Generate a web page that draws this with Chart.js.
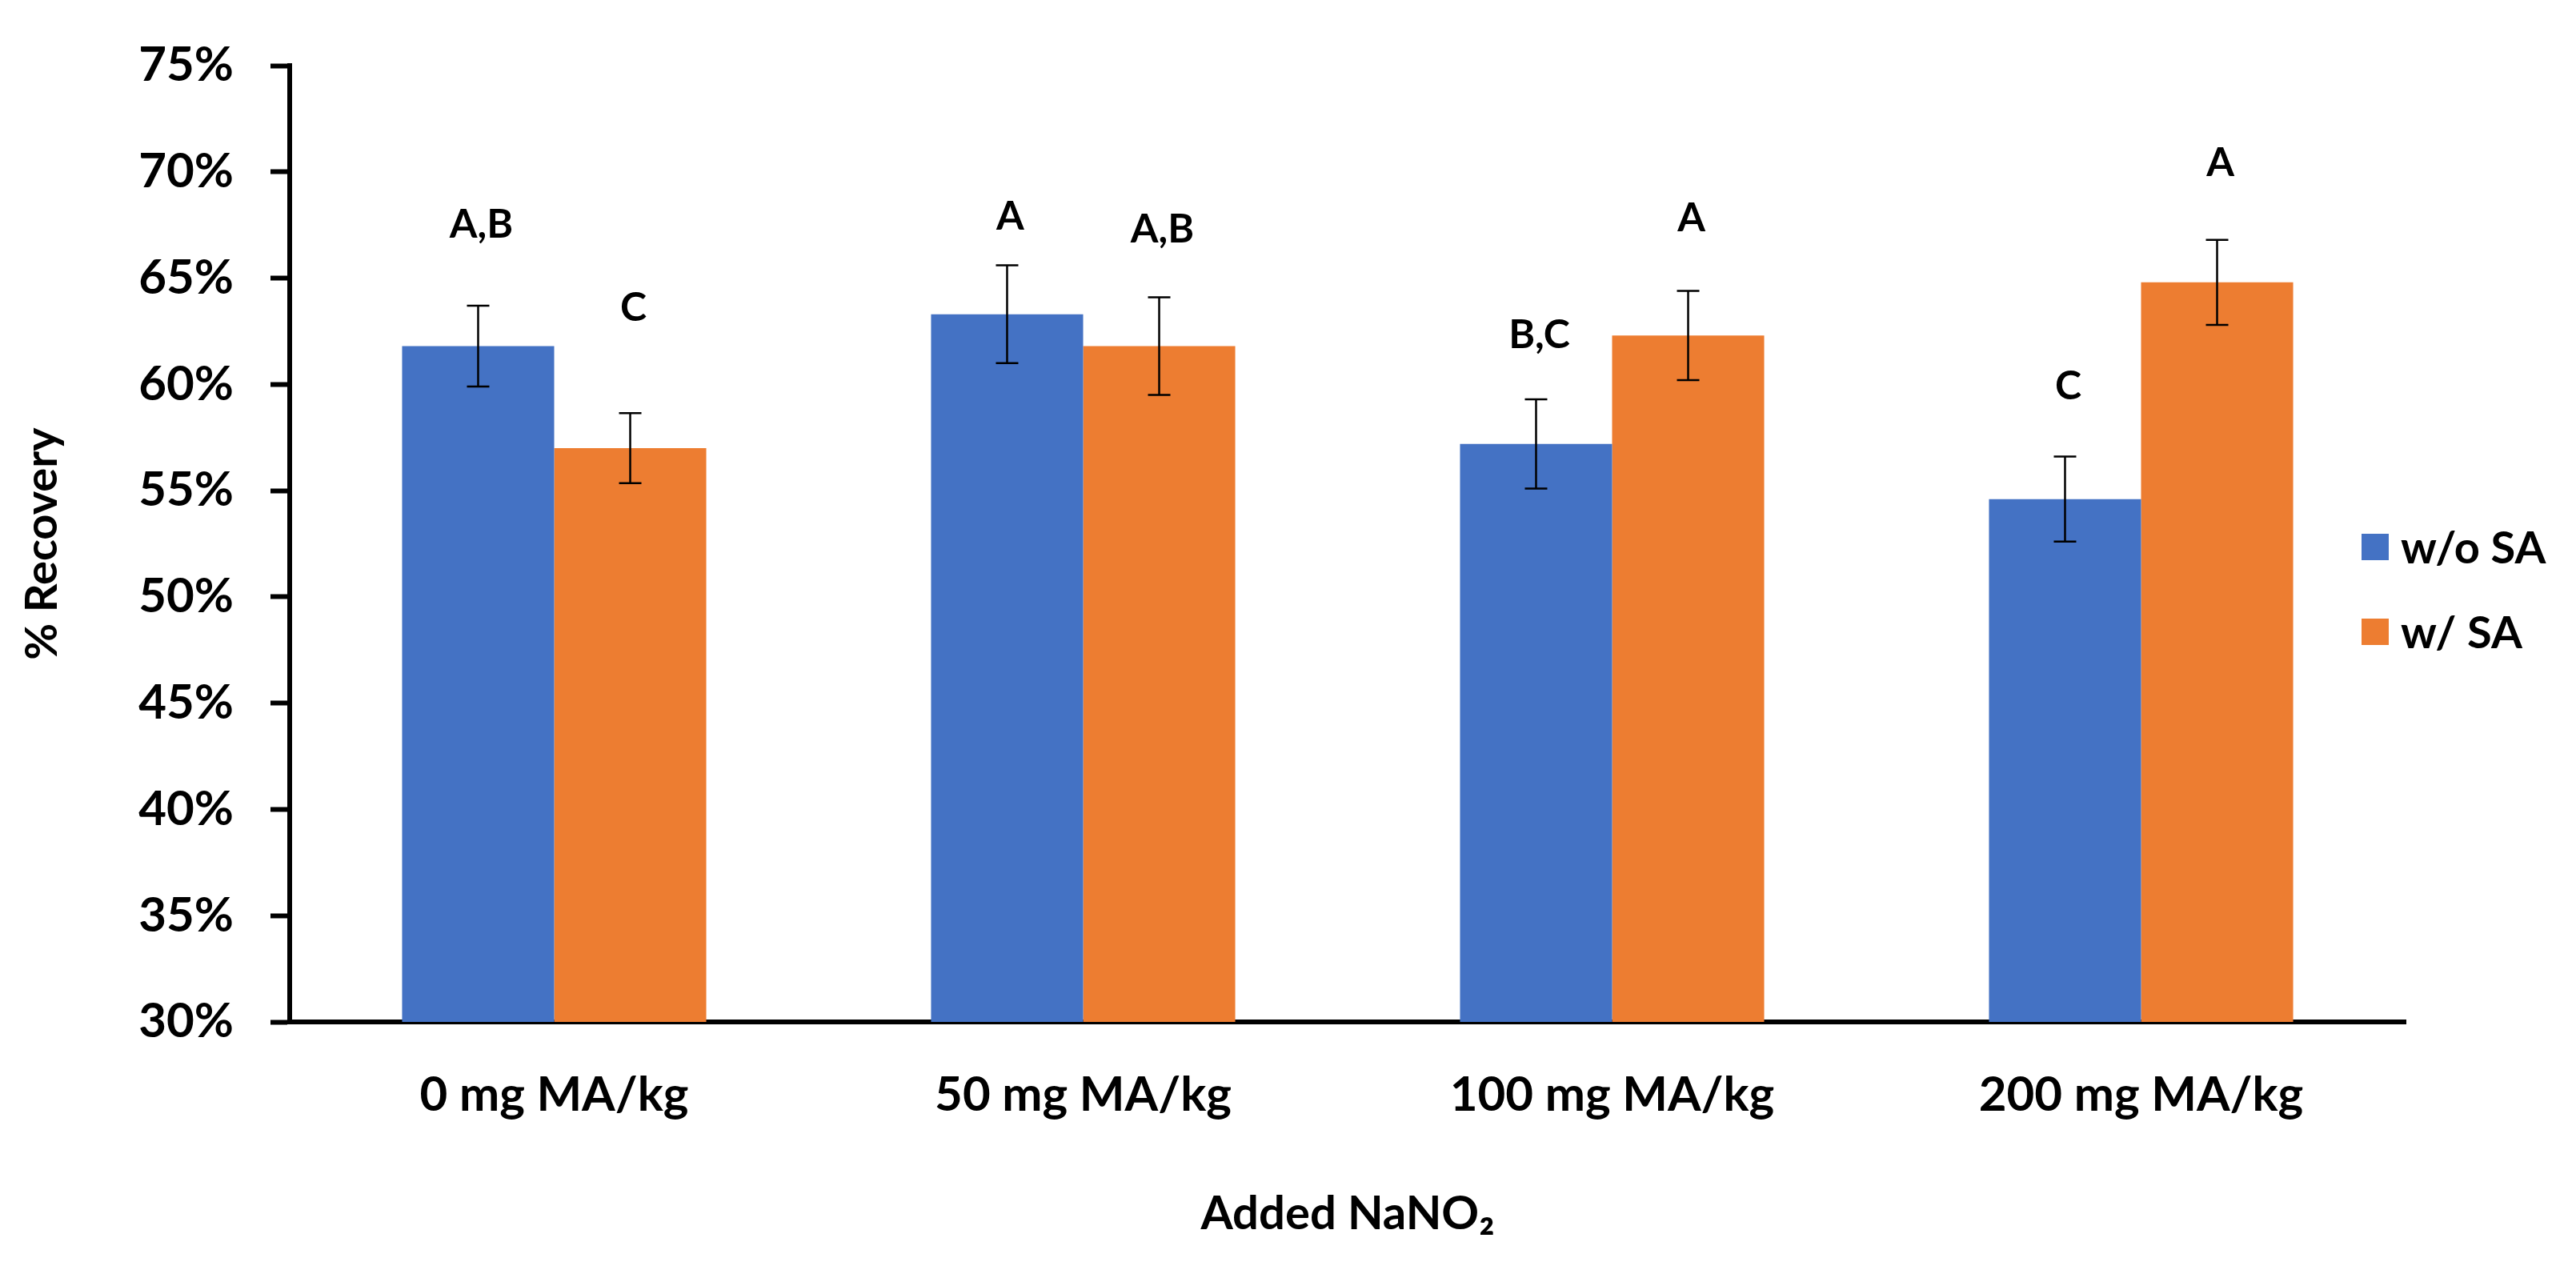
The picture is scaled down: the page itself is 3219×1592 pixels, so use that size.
<!DOCTYPE html>
<html>
<head>
<meta charset="utf-8">
<script src="https://cdn.jsdelivr.net/npm/chart.js@4.4.1/dist/chart.umd.min.js"></script>
<style>
  html, body { margin: 0; padding: 0; background: #fff; overflow: hidden; }
  #wrap { width: 3219px; height: 1592px; position: relative; }
</style>
</head>
<body>
<div id="wrap"><canvas id="recoveryChart"></canvas></div>
<script>
// values (% recovery)
const categories = ['0 mg MA/kg', '50 mg MA/kg', '100 mg MA/kg', '200 mg MA/kg'];
const seriesNames = ['w/o SA', 'w/ SA'];
const withoutSA = [61.8, 63.3, 57.2, 54.6];
const withoutSAErr = [1.9, 2.3, 2.1, 2.0];
const withSA = [57.0, 61.8, 62.3, 64.8];
const withSAErr = [1.65, 2.3, 2.1, 2.0];
// significance letters and the value they sit at
const withoutSALetters = ['A,B', 'A', 'B,C', 'C'];
const withSALetters = ['C', 'A,B', 'A', 'A'];
const withoutSALetterAt = [67.5, 67.9, 62.3, 59.9];
const withSALetterAt = [63.6, 67.3, 67.8, 70.4];
const yTicks = [30, 35, 40, 45, 50, 55, 60, 65, 70, 75];

const FONT = 'Lato, "Open Sans", sans-serif';
const BLUE = '#4472C4';
const ORANGE = '#ED7D31';

const errors = [withoutSAErr, withSAErr];
const letters = [withoutSALetters, withSALetters];
const letterAt = [withoutSALetterAt, withSALetterAt];

// error bars + letters above each bar
const extrasPlugin = {
    id: 'extras',
    afterDatasetsDraw(chart) {
        const ctx = chart.ctx;
        const y = chart.scales.y;
        ctx.save();
        chart.data.datasets.forEach((ds, di) => {
            const meta = chart.getDatasetMeta(di);
            meta.data.forEach((bar, i) => {
                const v = ds.data[i];
                const e = errors[di][i];
                const top = y.getPixelForValue(v + e);
                const bot = y.getPixelForValue(v - e);
                ctx.strokeStyle = '#000';
                ctx.lineWidth = 2.5;
                ctx.beginPath();
                ctx.moveTo(bar.x, top); ctx.lineTo(bar.x, bot);
                ctx.moveTo(bar.x - 14, top); ctx.lineTo(bar.x + 14, top);
                ctx.moveTo(bar.x - 14, bot); ctx.lineTo(bar.x + 14, bot);
                ctx.stroke();

                ctx.fillStyle = '#000';
                ctx.font = 'bold 50px ' + FONT;
                ctx.textAlign = 'center';
                ctx.textBaseline = 'middle';
                ctx.fillText(letters[di][i], bar.x + 4, y.getPixelForValue(letterAt[di][i]));
            });
        });
        ctx.restore();
    }
};

// legend sits inside the right part of the figure
const legendPlugin = {
    id: 'sideLegend',
    afterDraw(chart) {
        const ctx = chart.ctx;
        ctx.save();
        ctx.font = 'bold 56px ' + FONT;
        ctx.textBaseline = 'middle';
        ctx.textAlign = 'left';
        chart.data.datasets.forEach((ds, di) => {
            const cy = 684 + di * 106;
            ctx.fillStyle = ds.backgroundColor;
            ctx.fillRect(2951, cy - 17, 34, 33);
            ctx.fillStyle = '#000';
            ctx.fillText(ds.label, 3000, cy + 2);
        });
        ctx.restore();
    }
};

new Chart(document.getElementById('recoveryChart'), {
    type: 'bar',
    data: {
        labels: categories,
        datasets: [
            { label: seriesNames[0], data: withoutSA, backgroundColor: BLUE },
            { label: seriesNames[1], data: withSA, backgroundColor: ORANGE }
        ]
    },
    options: {
        responsive: true,
        maintainAspectRatio: false,
        animation: false,
        devicePixelRatio: 1,
        layout: { padding: { left: 0, right: 213, top: 66, bottom: 0 } },
        datasets: { bar: { categoryPercentage: 0.575, barPercentage: 1.0 } },
        plugins: {
            legend: { display: false },
            tooltip: { enabled: false }
        },
        scales: {
            x: {
                grid: { display: false },
                border: { display: true, color: '#000', width: 6 },
                ticks: {
                    color: '#000',
                    font: { family: FONT, size: 60, weight: 'bold' },
                    padding: 48,
                    maxRotation: 0
                },
                title: {
                    display: true,
                    text: 'Added NaNO\u2082',
                    color: '#000',
                    font: { family: FONT, size: 58, weight: 'bold' },
                    padding: { top: 0, bottom: 40 }
                },
                afterFit(scale) { scale.height = 315; }
            },
            y: {
                min: 30,
                max: 75,
                afterBuildTicks(scale) { scale.ticks = yTicks.map(v => ({ value: v })); },
                grid: {
                    display: true,
                    drawOnChartArea: false,
                    drawTicks: true,
                    tickLength: 24,
                    tickWidth: 6,
                    tickColor: '#000'
                },
                border: { display: true, color: '#000', width: 6 },
                ticks: {
                    color: '#000',
                    font: { family: FONT, size: 60, weight: 'bold' },
                    padding: 46,
                    callback: v => v + '%'
                },
                title: {
                    display: true,
                    text: '% Recovery',
                    color: '#000',
                    font: { family: FONT, size: 56, weight: 'bold' },
                    padding: { top: 19, bottom: 0 }
                },
                afterFit(scale) { scale.width = 362; }
            }
        }
    },
    plugins: [extrasPlugin, legendPlugin]
});
</script>
</body>
</html>
